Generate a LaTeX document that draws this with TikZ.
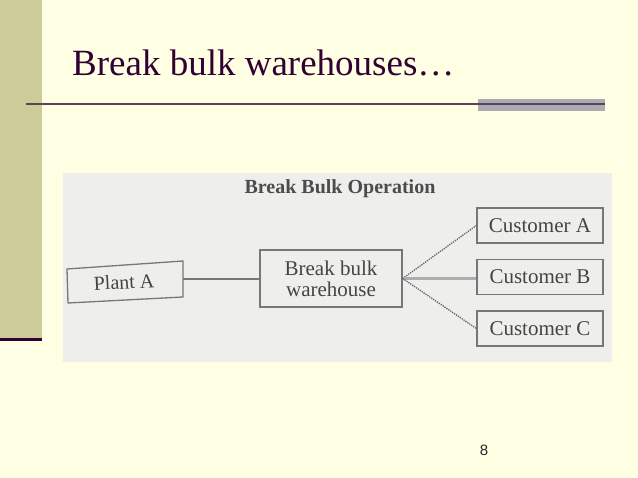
\documentclass[tikz,border=0pt]{standalone}
\usepackage{fontspec}
\setmainfont{Liberation Serif}
\newfontfamily\pagefont{Liberation Sans}
\definecolor{slidebg}{HTML}{FFFFE3}
\definecolor{sidebar}{HTML}{CCCC99}
\definecolor{titlecol}{HTML}{330033}
\definecolor{rulecol}{HTML}{5A4458}
\definecolor{graybar}{HTML}{ABABB3}
\definecolor{scanbg}{HTML}{EEEEEC}
\definecolor{scanline}{HTML}{777777}
\definecolor{scantext}{HTML}{444444}
\tikzset{
  x=1pt, y=-1pt,
  scanbox/.style={draw=scanline, line width=1.3pt, inner sep=0pt, align=center,
    font=\fontsize{21}{21}\selectfont, text=scantext},
  custbox/.style={scanbox, minimum width=126pt, minimum height=35pt},
  link/.style={draw=scanline, line width=1.2pt},
  fanlink/.style={draw=black!60, line width=1.3pt, densely dotted},
}
\begin{document}
\begin{tikzpicture}
\useasboundingbox (0,0) rectangle (638,478);
\fill[slidebg] (0,0) rectangle (638,478);
% left side bar
\fill[sidebar] (0,0) rectangle (42,340);
\draw[titlecol, line width=3pt] (0,340) -- (42,340);
% title
\node[anchor=base west, inner sep=0pt, text=titlecol, font=\fontsize{37}{40}\selectfont] (title) at (72,76) {Break bulk warehouses…};
% rule under title
\fill[graybar] (478,99) rectangle (605,111);
\draw[rulecol, line width=2pt] (26,104) -- (605,104);
% scanned figure background
\fill[scanbg] (63,173) rectangle (612,362);
\node[font=\bfseries\fontsize{20}{20}\selectfont, text=black!70] (figtitle) at (340,189) {Break Bulk Operation};
% plant A (slightly skewed box)
\draw[scanline, line width=1.3pt] (67,269) -- (183,261) -- (183,297) -- (68,303) -- cycle;
\node[rotate=3, font=\fontsize{20}{20}\selectfont, text=scantext] (plant) at (124,282) {Plant A};
\coordinate (plantR) at (183,279);
% warehouse
\node[scanbox, minimum width=142pt, minimum height=57pt] (wh) at (331,278.5) {Break bulk\\warehouse};
% customers
\node[custbox] (ca) at (540,225.5) {Customer A};
\node[custbox] (cb) at (540,277) {Customer B};
\node[custbox] (cc) at (540,328.5) {Customer C};
% connectors
\draw[link] (plantR) -- (wh.west |- plantR);
\draw[fanlink] (wh.east) -- (ca.west);
\draw[draw=scanline!60, line width=3.5pt] (wh.east) -- (wh.east -| cb.west);
\draw[fanlink] (wh.east) -- (cc.west);
% page number
\node[font=\pagefont\fontsize{15}{16}\selectfont, text=black!85] (pg) at (484,450) {8};
\end{tikzpicture}
\end{document}
